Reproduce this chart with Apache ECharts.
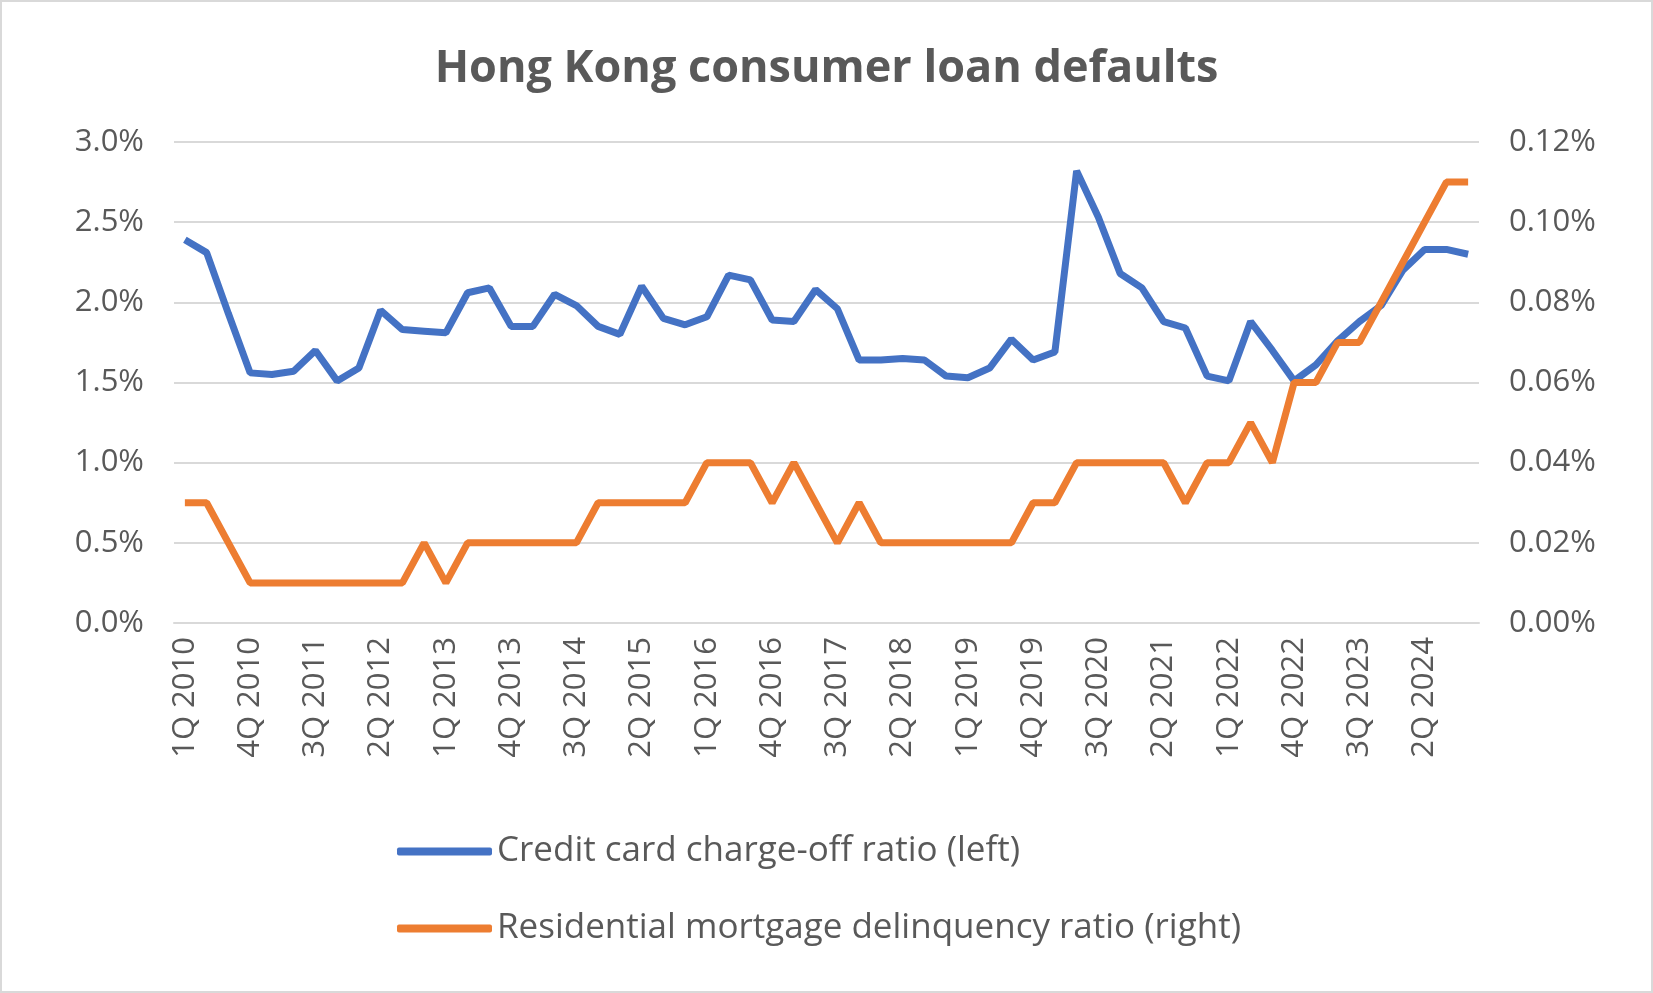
<!DOCTYPE html>
<html><head><meta charset="utf-8">
<script src="https://cdn.jsdelivr.net/npm/echarts@6/dist/echarts.min.js"></script>
<style>html,body{margin:0;background:#fff}#c{width:1653px;height:993px;box-sizing:border-box;border:2px solid #d9d9d9}</style>
</head><body><div id="c"></div>
<script>
const quarters = [];
for (let y = 2010; y <= 2024; y++) for (let q = 1; q <= 4; q++) quarters.push(q + 'Q ' + y);

const creditCard = [2.39,2.31,1.93,1.56,1.55,1.57,1.70,1.51,1.59,1.95,
  1.83,1.82,1.81,2.06,2.09,1.85,1.85,2.05,1.98,1.85,
  1.80,2.10,1.90,1.86,1.91,2.17,2.14,1.89,1.88,2.08,
  1.96,1.64,1.64,1.65,1.64,1.54,1.53,1.59,1.77,1.64,
  1.69,2.82,2.53,2.18,2.09,1.88,1.84,1.54,1.51,1.88,
  1.70,1.51,1.61,1.76,1.88,1.98,2.20,2.33,2.33,2.30];

const mortgage = [0.03,0.03,0.02,0.01,0.01,0.01,0.01,0.01,0.01,0.01,
  0.01,0.02,0.01,0.02,0.02,0.02,0.02,0.02,0.02,0.03,
  0.03,0.03,0.03,0.03,0.04,0.04,0.04,0.03,0.04,0.03,
  0.02,0.03,0.02,0.02,0.02,0.02,0.02,0.02,0.02,0.03,
  0.03,0.04,0.04,0.04,0.04,0.04,0.03,0.04,0.04,0.05,
  0.04,0.06,0.06,0.07,0.07,0.08,0.09,0.10,0.11,0.11];

const txt = '#595959';
const chart = echarts.init(document.getElementById('c'));
chart.setOption({
  animation: false,
  textStyle: { fontFamily: 'Open Sans, sans-serif', color: txt },
  title: { text: 'Hong Kong consumer loan defaults', left: 'center', top: 40,
    textStyle: { fontSize: 45, fontWeight: 'bold', color: txt } },
  grid: { left: 172, right: 172, top: 140, bottom: 368 },
  legend: { orient: 'vertical', left: 390, top: 827, itemGap: 42, itemWidth: 95, itemHeight: 8,
    icon: 'roundRect', textStyle: { fontSize: 35, color: txt },
    data: ['Credit card charge-off ratio (left)', 'Residential mortgage delinquency ratio (right)'] },
  xAxis: { type: 'category', data: quarters, boundaryGap: true,
    axisLine: { lineStyle: { color: '#d9d9d9', width: 2 } }, axisTick: { show: false },
    axisLabel: { rotate: 90, interval: 2, fontSize: 31, color: txt, margin: 14 } },
  yAxis: [
    { type: 'value', min: 0, max: 3, interval: 0.5,
      axisLabel: { fontSize: 31, color: txt, margin: 30, formatter: v => v.toFixed(1) + '%' },
      splitLine: { lineStyle: { color: '#d9d9d9', width: 2 } } },
    { type: 'value', min: 0, max: 0.12, interval: 0.02,
      axisLabel: { fontSize: 31, color: txt, margin: 30, formatter: v => v.toFixed(2) + '%' },
      splitLine: { show: false } }
  ],
  series: [
    { name: 'Credit card charge-off ratio (left)', type: 'line', data: creditCard, yAxisIndex: 0,
      showSymbol: false, lineStyle: { width: 7, color: '#4472c4' }, itemStyle: { color: '#4472c4' } },
    { name: 'Residential mortgage delinquency ratio (right)', type: 'line', data: mortgage, yAxisIndex: 1,
      showSymbol: false, lineStyle: { width: 7, color: '#ed7d31' }, itemStyle: { color: '#ed7d31' } }
  ]
});
</script></body></html>
